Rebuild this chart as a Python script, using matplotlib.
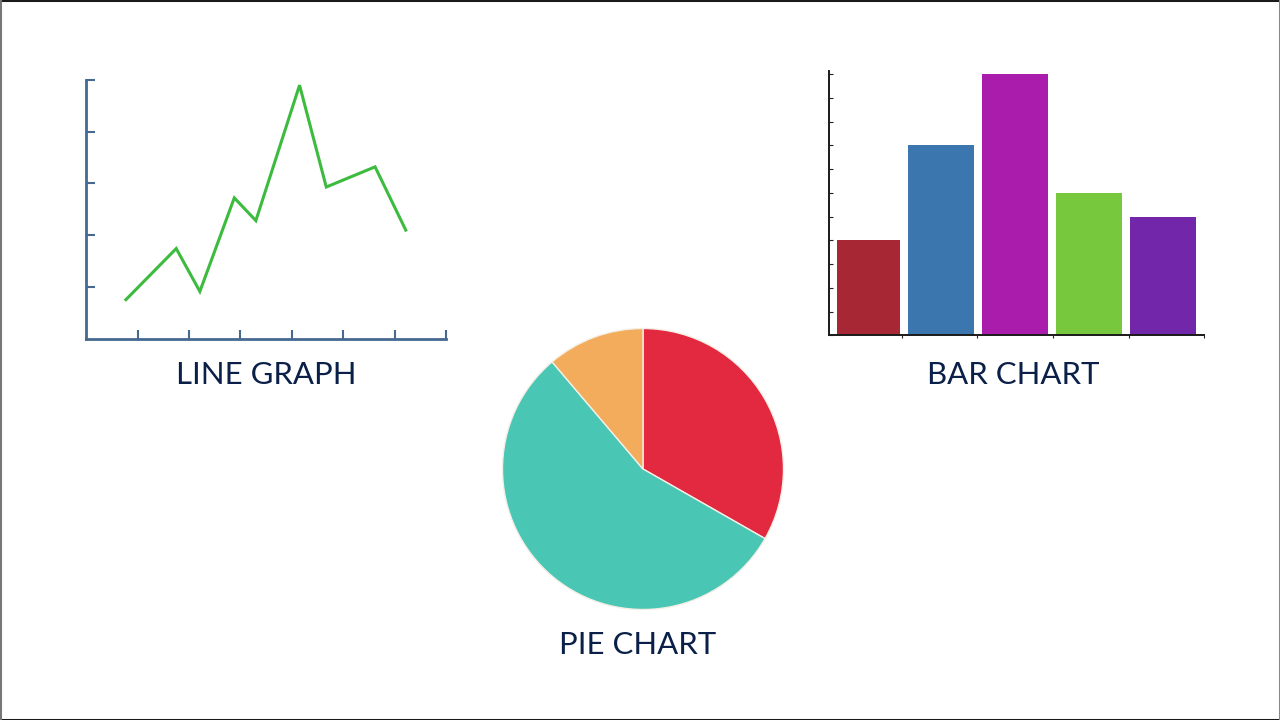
import matplotlib
matplotlib.use("Agg")
import matplotlib.pyplot as plt
from matplotlib.lines import Line2D

W, H = 1280, 720

# Line graph
line_x = [0.75, 1.75, 2.21, 2.88, 3.30, 4.15, 4.67, 5.62, 6.23]
line_y = [0.73, 1.74, 0.91, 2.72, 2.28, 4.90, 2.93, 3.32, 2.07]
line_xticks = [1, 2, 3, 4, 5, 6, 7]
line_yticks = [1, 2, 3, 4, 5]

# Bar chart
bar_positions = [0.530, 1.496, 2.482, 3.468, 4.454]
bar_widths = [0.839, 0.879, 0.879, 0.879, 0.879]
bar_values = [4, 8, 11, 6, 5]
bar_colors = ["#A72834", "#3C76AF", "#AA1CAC", "#77C83C", "#7227AB"]
bar_xticks = [0.98, 1.98, 2.99, 4.0, 5.0]
bar_yticks = [0, 1, 2, 3, 4, 5, 6, 7, 8, 9, 10, 11]

# Pie chart
pie_values = [33.25, 55.55, 11.2]
pie_colors = ["#E2293F", "#4AC6B4", "#F3AC5B"]

titles = ["LINE GRAPH", "BAR CHART", "PIE CHART"]
title_color = "#0A2048"
FONT = "Lato"


def axes_px(fig, left, top, right, bottom):
    return fig.add_axes([left / W, 1 - bottom / H, (right - left) / W, (bottom - top) / H])


fig = plt.figure(figsize=(W / 100, H / 100), dpi=100, facecolor="white")

# ---- line graph
ax = axes_px(fig, 86.3, 80, 446, 338.5)
ax.plot(line_x, line_y, color="#3DBB3F", lw=2.2, solid_joinstyle="miter", solid_capstyle="butt")
ax.set_xlim(0, 7)
ax.set_ylim(0, 5)
ax.set_xticks(line_xticks, labels=[])
ax.set_yticks(line_yticks, labels=[])
ax.tick_params(axis="both", direction="in", length=6.5, width=1.5, color="#45698F")
for s in ("top", "right"):
    ax.spines[s].set_visible(False)
for s in ("left", "bottom"):
    ax.spines[s].set_color("#45698F")
    ax.spines[s].set_linewidth(2)
ax.patch.set_alpha(0)

# ---- bar chart
ax = axes_px(fig, 828.7, 71, 1204, 335.3)
ax.bar(bar_positions, bar_values, width=bar_widths, color=bar_colors)
ax.set_xlim(0, 5)
ax.set_ylim(0, 11.13)
ax.set_xticks(bar_xticks, labels=[])
ax.set_yticks(bar_yticks, labels=[])
ax.tick_params(axis="x", direction="out", length=2.5, width=0.8, color="#222222")
ax.tick_params(axis="y", direction="in", length=3, width=0.8, color="#222222")
for s in ("top", "right"):
    ax.spines[s].set_visible(False)
for s in ("left", "bottom"):
    ax.spines[s].set_color("#1A1A1A")
    ax.spines[s].set_linewidth(1.4)
ax.patch.set_alpha(0)

# ---- pie chart
R = 140.5
cx, cy = 643, 469
ax = axes_px(fig, cx - R, cy - R, cx + R, cy + R)
ax.pie(pie_values, colors=pie_colors, startangle=90, counterclock=False, radius=1,
       wedgeprops={"edgecolor": "#F4EFE6", "linewidth": 1.0})
ax.set_xlim(-1, 1)
ax.set_ylim(-1, 1)

# ---- captions
for t, x, y in zip(titles, [266, 1013, 638], [374, 374, 645]):
    fig.text(x / W, 1 - (y + 0.5) / H, t, ha="center", va="center", family=FONT, fontsize=22.4, color=title_color)

# ---- frame
fig.add_artist(Line2D([0, 1], [1, 1], transform=fig.transFigure, color="#1A1A1A", lw=2.2))
fig.add_artist(Line2D([0, 1], [0, 0], transform=fig.transFigure, color="#1A1A1A", lw=2.2))
fig.add_artist(Line2D([0, 0], [0, 1], transform=fig.transFigure, color="#777777", lw=2.2))
fig.add_artist(Line2D([1, 1], [0, 1], transform=fig.transFigure, color="#888888", lw=2.2))

fig.savefig("out.png", dpi=100)
